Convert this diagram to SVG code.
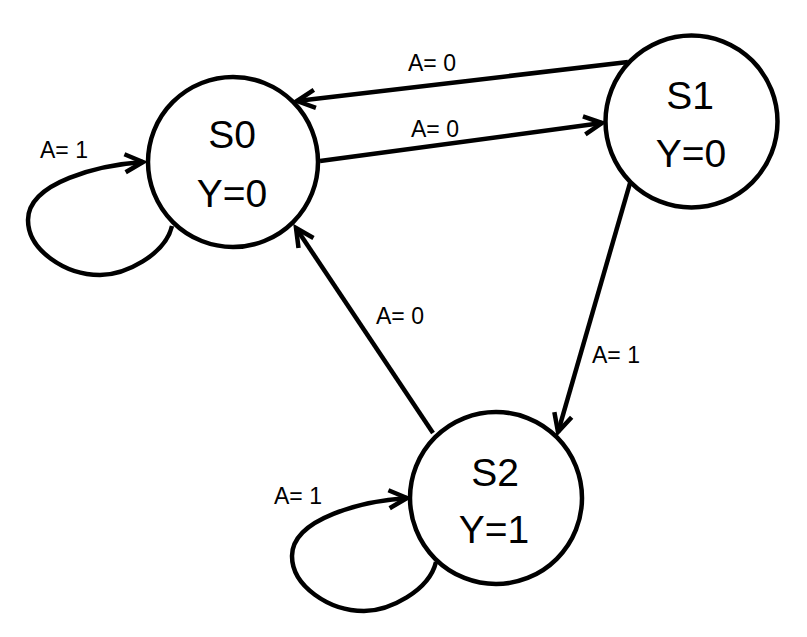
<svg xmlns="http://www.w3.org/2000/svg" width="807" height="637" viewBox="0 0 807 637">
<style>
.st{fill:#fff;stroke:#000;stroke-width:4.5}
.big{font-family:"Liberation Sans",Arial,sans-serif;font-size:39px;text-anchor:middle;fill:#000}
.lbl{font-family:"Liberation Sans",Arial,sans-serif;font-size:23px;fill:#000}
.e{fill:none;stroke:#000;stroke-width:4.5}
</style>
<defs>
<marker id="ah" markerUnits="userSpaceOnUse" markerWidth="30" markerHeight="30" viewBox="-22 -15 26 30" refX="0" refY="0" orient="auto">
<path d="M-18,-9 L0,0 L-18,9" fill="none" stroke="#000" stroke-width="4.5" stroke-linejoin="miter"/>
</marker>
</defs>
<rect width="807" height="637" fill="#fff"/>
<g id="connectors">
<path class="e" d="M628,62 L297,101" marker-end="url(#ah)"/>
<path class="e" d="M320,161 L602,123" marker-end="url(#ah)"/>
<path class="e" d="M433,433 L296,228" marker-end="url(#ah)"/>
<path class="e" d="M630,183 L558,432" marker-end="url(#ah)"/>
<path id="loop0" class="e" d="M172,226 C165,255 125,275 100,275 C65,275 28,250 28,220 C28,182 100,165 143,162" marker-end="url(#ah)"/>
<path id="loop2" class="e" transform="translate(264,336)" d="M172,226 C165,255 125,275 100,275 C65,275 28,250 28,220 C28,182 100,165 143,162" marker-end="url(#ah)"/>
<text class="lbl" x="408" y="71">A= 0</text>
<text class="lbl" x="411" y="137">A= 0</text>
<text class="lbl" x="376" y="324">A= 0</text>
<text class="lbl" x="592" y="363">A= 1</text>
<text class="lbl" x="40" y="158">A= 1</text>
<text class="lbl" x="274" y="504">A= 1</text>
</g>
<g id="S0">
<circle class="st" cx="233" cy="162" r="85"/>
<text class="big" x="232" y="148">S0</text>
<text class="big" x="232" y="207">Y=0</text>
</g>
<g id="S1">
<circle class="st" cx="691.5" cy="121.5" r="86"/>
<text class="big" x="690" y="109">S1</text>
<text class="big" x="691" y="167">Y=0</text>
</g>
<g id="S2">
<circle class="st" cx="496" cy="498" r="86"/>
<text class="big" x="495" y="486">S2</text>
<text class="big" x="494" y="543">Y=1</text>
</g>
</svg>
